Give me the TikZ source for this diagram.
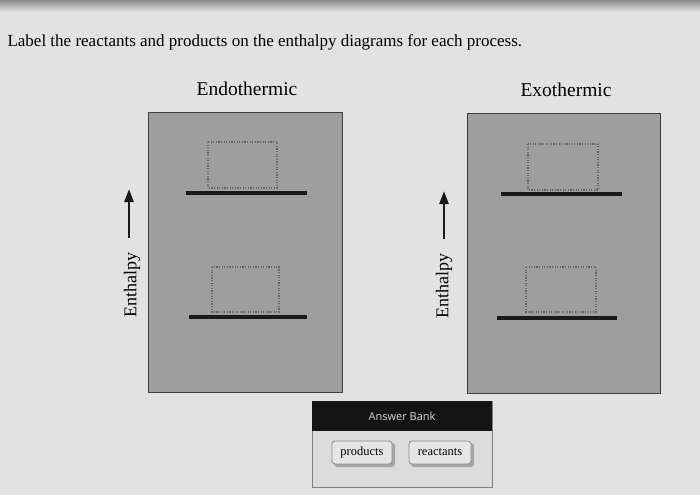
\documentclass[tikz,border=0pt]{standalone}
\usepackage{fontspec}
\usepackage{xcolor}
\usetikzlibrary{arrows.meta}
\setmainfont{Liberation Serif}
\newfontfamily\banksans{Open Sans}
\definecolor{screengray}{RGB}{226,226,226}
\definecolor{panelgray}{RGB}{158,158,158}
\definecolor{bankgray}{RGB}{220,220,220}
\definecolor{chipgray}{RGB}{230,230,230}

\begin{document}
\begin{tikzpicture}[x=1pt,y=-1pt,
  panel/.style={draw=black!75, fill=panelgray, line width=1pt},
  level/.style={line width=3.4pt, black!90},
  slot/.style={draw=black!60, dash pattern=on 1.2pt off 1.4pt, line width=1.1pt},
  axisarrow/.style={-{Triangle[length=13pt,width=9pt]}, line width=2.6pt, black!90},
  chip/.style={draw=black!45, fill=chipgray, rounded corners=3pt, line width=0.8pt,
    minimum width=60pt, minimum height=23pt, inner sep=0pt, font=\fontsize{12.5}{14}\selectfont}]
\useasboundingbox (0,0) rectangle (700,495);
% screen background
\fill[screengray] (0,0) rectangle (700,495);
\shade[top color=black!45, bottom color=screengray] (0,0) rectangle (700,12);

% question text
\node[anchor=west, font=\fontsize{17}{20}\selectfont] (question) at (4,42)
  {Label the reactants and products on the enthalpy diagrams for each process.};

% Endothermic panel
\node[font=\fontsize{19.5}{22}\selectfont] (endotitle) at (247,89) {Endothermic};
\draw[panel] (148,112) rectangle (342,392);
\draw[slot] (208,142) rectangle (277,188);
\draw[level] (186,193) -- (307,193);
\draw[slot] (212,267) rectangle (279,312);
\draw[level] (189,317) -- (307,317);
\coordinate (endotail) at (129,238);
\coordinate (endohead) at (129,189);
\draw[axisarrow] (endotail) -- (endohead);
\node[rotate=90, font=\fontsize{18}{20}\selectfont] (endoaxis) at (132,285) {Enthalpy};

% Exothermic panel
\node[font=\fontsize{19.5}{22}\selectfont] (exotitle) at (566,90) {Exothermic};
\draw[panel] (467,113) rectangle (660,393);
\draw[slot] (528,144) rectangle (598,190);
\draw[level] (501,194) -- (622,194);
\draw[slot] (526,267) rectangle (596,312);
\draw[level] (497,318) -- (617,318);
\coordinate (exotail) at (444,239);
\coordinate (exohead) at (444,191);
\draw[axisarrow] (exotail) -- (exohead);
\node[rotate=90, font=\fontsize{18}{20}\selectfont] (exoaxis) at (444,286) {Enthalpy};

% Answer bank
\draw[draw=black!50, fill=bankgray, line width=0.8pt] (312,401) rectangle (492,487);
\fill[black!92] (312,401) rectangle (492,431);
\node[text=white!85!black, font=\banksans\fontsize{11}{13}\selectfont] (banktitle) at (402,416) {Answer Bank};
\fill[black!35, rounded corners=3pt] (334,443) rectangle (395,467);
\node[chip] (products) at (362,452.5) {products};
\fill[black!35, rounded corners=3pt] (411,443) rectangle (474,467);
\node[chip, minimum width=62pt] (reactants) at (440,452.5) {reactants};
\end{tikzpicture}
\end{document}
